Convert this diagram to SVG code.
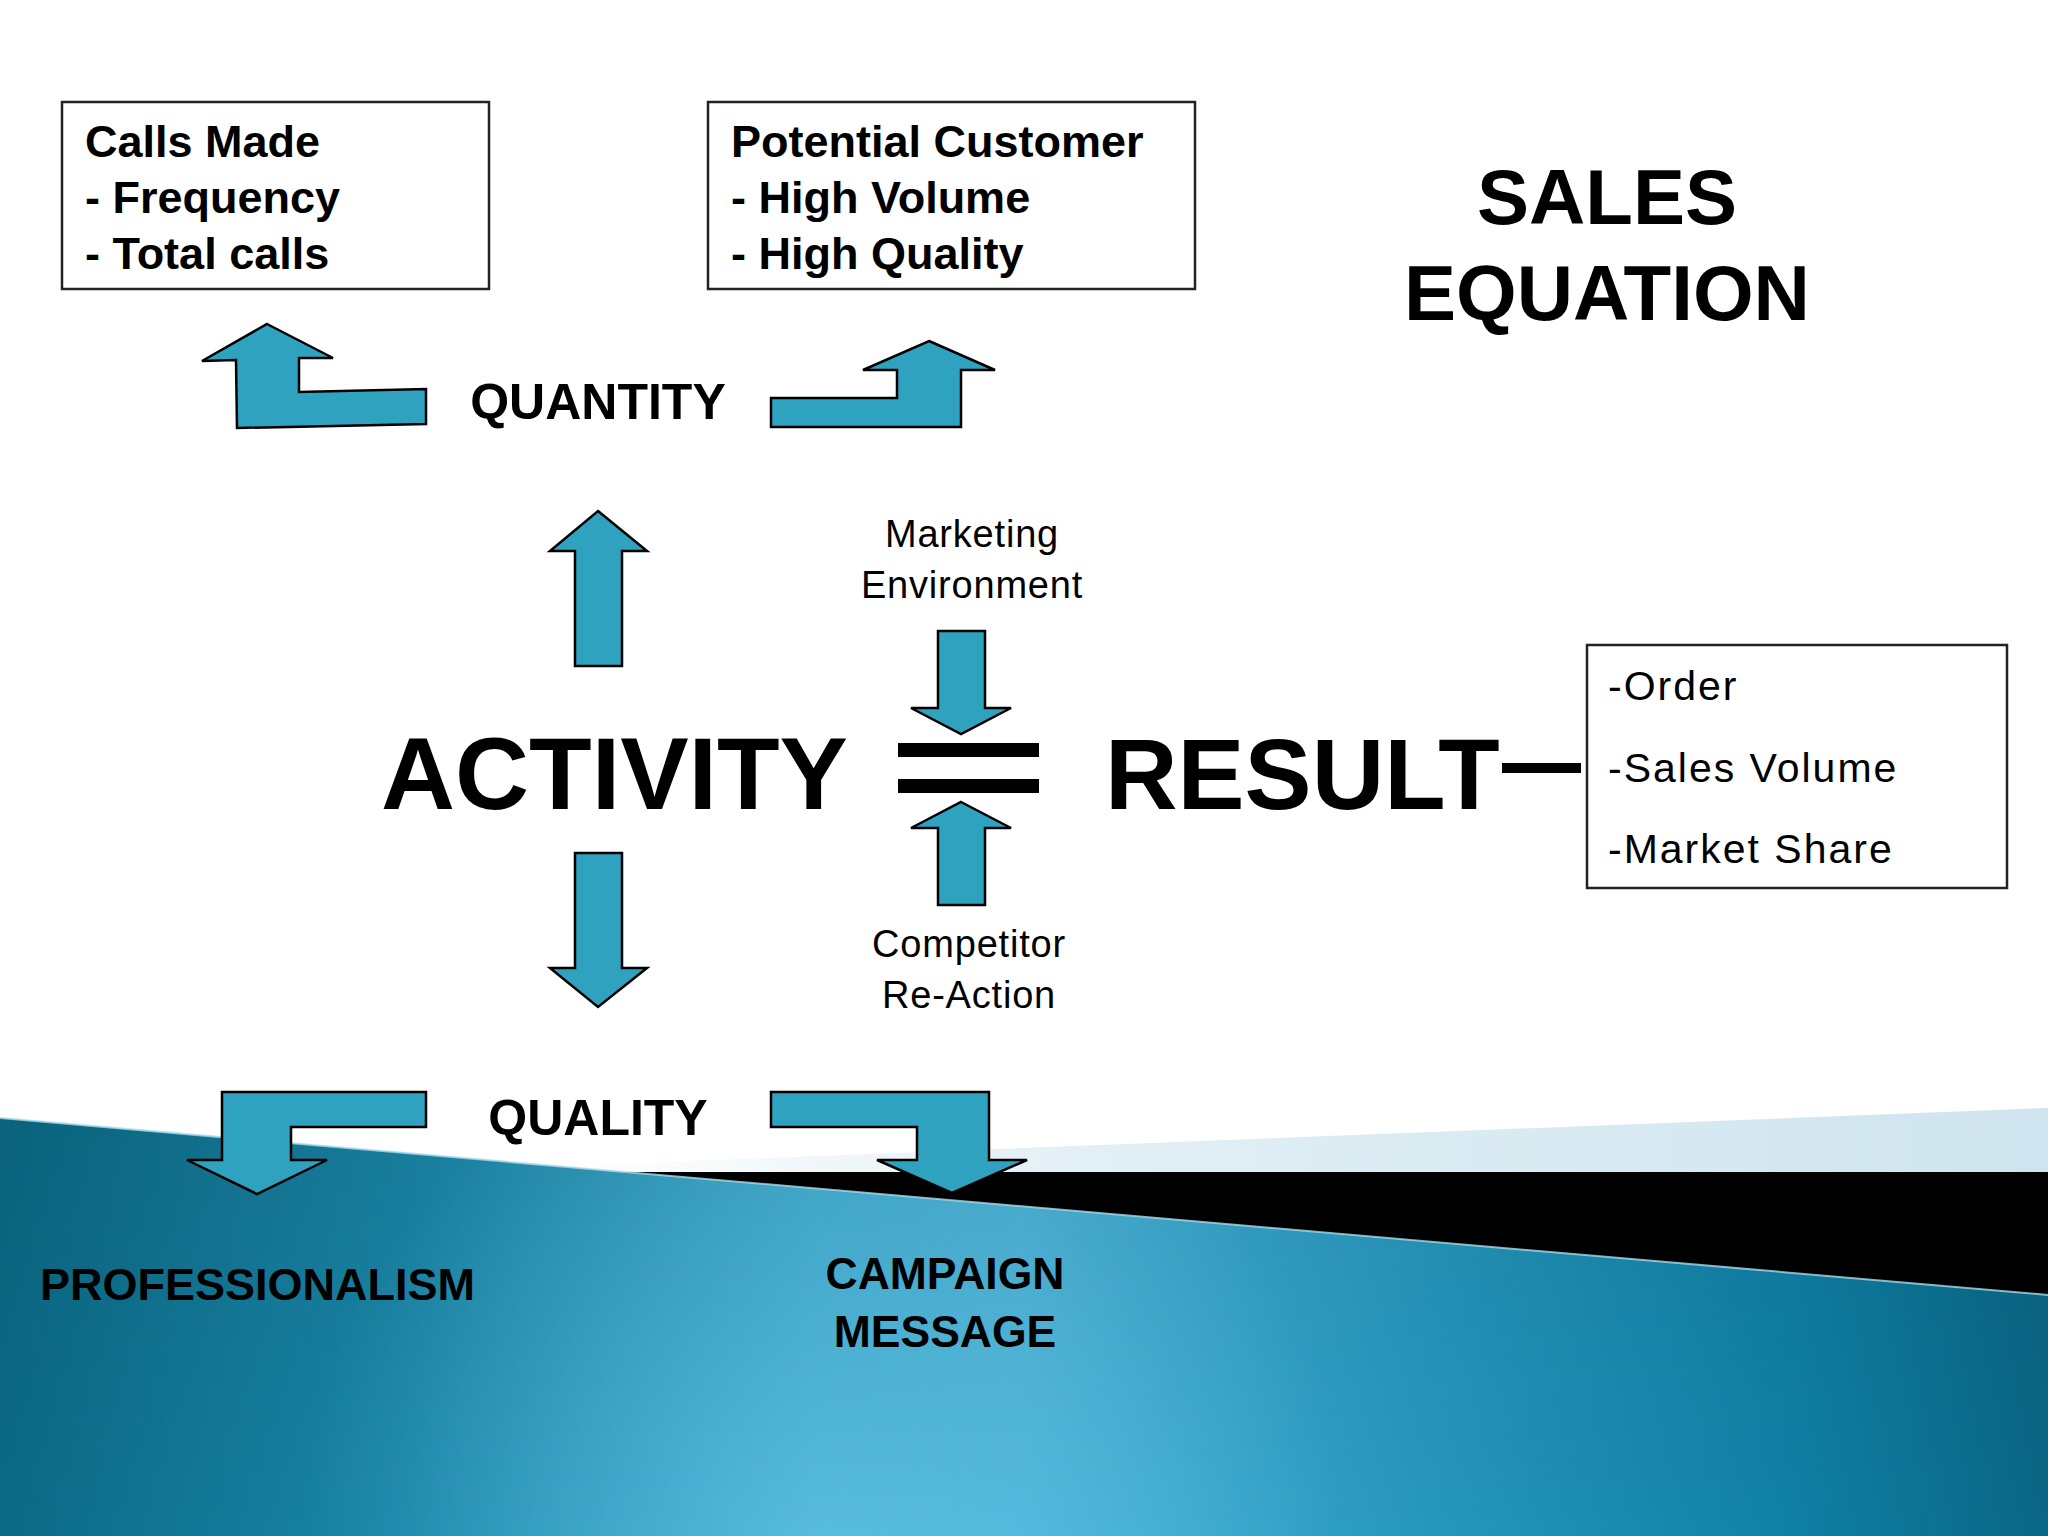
<svg xmlns="http://www.w3.org/2000/svg" width="2048" height="1536" viewBox="0 0 2048 1536">
<defs>
<linearGradient id="paleBand" x1="560" y1="0" x2="2048" y2="0" gradientUnits="userSpaceOnUse">
<stop offset="0" stop-color="#ffffff"/>
<stop offset="0.35" stop-color="#e2eff5"/>
<stop offset="1" stop-color="#cfe4ee"/>
</linearGradient>
<linearGradient id="teal" x1="0" y1="0" x2="2048" y2="0" gradientUnits="userSpaceOnUse">
<stop offset="0" stop-color="#0b6a86"/>
<stop offset="0.2" stop-color="#1a86a8"/>
<stop offset="0.4" stop-color="#3eaed3"/>
<stop offset="0.5" stop-color="#48b3d8"/>
<stop offset="0.7" stop-color="#2696bd"/>
<stop offset="0.88" stop-color="#0f7fa4"/>
<stop offset="1" stop-color="#0a6685"/>
</linearGradient>
<radialGradient id="tealGlow" cx="820" cy="1536" r="520" gradientUnits="userSpaceOnUse">
<stop offset="0" stop-color="#6cc6e6" stop-opacity="0.55"/>
<stop offset="1" stop-color="#6cc6e6" stop-opacity="0"/>
</radialGradient>
<linearGradient id="tealShade" x1="0" y1="1118" x2="0" y2="1536" gradientUnits="userSpaceOnUse">
<stop offset="0" stop-color="#000000" stop-opacity="0.08"/>
<stop offset="1" stop-color="#000000" stop-opacity="0"/>
</linearGradient>
</defs>
<style>
.arrow{fill:#2fa2c0;stroke:#000;stroke-width:2.5;stroke-linejoin:miter}
.box{fill:#fff;stroke:#222;stroke-width:2.5}
.bt{font-family:"Liberation Sans",Arial,sans-serif;font-weight:bold;fill:#000}
.rt{font-family:"Liberation Sans",Arial,sans-serif;fill:#000}
</style>

<!-- background -->
<rect x="0" y="0" width="2048" height="1536" fill="#ffffff"/>
<polygon points="560,1166 2048,1108 2048,1180 560,1180" fill="url(#paleBand)"/>
<rect x="600" y="1172" width="1448" height="140" fill="#000"/>
<path d="M0,1118 L2048,1295 L2048,1536 L0,1536 Z" fill="url(#teal)"/>
<path d="M0,1118 L2048,1295 L2048,1536 L0,1536 Z" fill="url(#tealGlow)"/>
<path d="M0,1118 L2048,1295 L2048,1536 L0,1536 Z" fill="url(#tealShade)"/>
<path d="M0,1118 L2048,1295" fill="none" stroke="#a9d9e8" stroke-width="2" opacity="0.8"/>

<!-- title -->
<g id="title">
<text class="bt" x="1607" y="224" font-size="78" text-anchor="middle">SALES</text>
<text class="bt" x="1607" y="320" font-size="78" text-anchor="middle">EQUATION</text>
</g>

<g id="calls-made">
<rect class="box" x="62" y="102" width="427" height="187"/>
<text class="bt" x="85" y="157" font-size="45">Calls Made</text>
<text class="bt" x="85" y="213" font-size="45">- Frequency</text>
<text class="bt" x="85" y="269" font-size="45">- Total calls</text>
</g>

<g id="potential-customer">
<rect class="box" x="708" y="102" width="487" height="187"/>
<text class="bt" x="731" y="157" font-size="45">Potential Customer</text>
<text class="bt" x="731" y="213" font-size="45">- High Volume</text>
<text class="bt" x="731" y="269" font-size="45">- High Quality</text>
</g>

<g id="quantity">
<text class="bt" x="598" y="419" font-size="50" text-anchor="middle">QUANTITY</text>
</g>

<g id="activity">
<text class="bt" x="381" y="809" font-size="102.5">ACTIVITY</text>
</g>

<g id="equals">
<rect x="898" y="743" width="141" height="14" fill="#000"/>
<rect x="898" y="779" width="141" height="14" fill="#000"/>
</g>

<g id="result">
<text class="bt" x="1105" y="809" font-size="100.5">RESULT</text>
</g>

<g id="marketing-environment">
<text class="rt" x="972" y="547" font-size="38" letter-spacing="0.8" text-anchor="middle">Marketing</text>
<text class="rt" x="972" y="598" font-size="38" letter-spacing="0.8" text-anchor="middle">Environment</text>
</g>

<g id="competitor-reaction">
<text class="rt" x="969" y="957" font-size="38" letter-spacing="0.8" text-anchor="middle">Competitor</text>
<text class="rt" x="969" y="1008" font-size="38" letter-spacing="0.8" text-anchor="middle">Re-Action</text>
</g>

<g id="result-box">
<rect class="box" x="1587" y="645" width="420" height="243"/>
<text class="rt" x="1608" y="700" font-size="41" letter-spacing="2">-Order</text>
<text class="rt" x="1608" y="782" font-size="41" letter-spacing="2">-Sales Volume</text>
<text class="rt" x="1608" y="863" font-size="41" letter-spacing="2">-Market Share</text>
</g>

<g id="quality">
<text class="bt" x="598" y="1135" font-size="50" text-anchor="middle">QUALITY</text>
</g>

<g id="professionalism">
<text class="bt" x="40" y="1300" font-size="45">PROFESSIONALISM</text>
</g>

<g id="campaign-message">
<text class="bt" x="945" y="1289" font-size="44.5" text-anchor="middle">CAMPAIGN</text>
<text class="bt" x="945" y="1347" font-size="44.5" text-anchor="middle">MESSAGE</text>
</g>

<g id="connectors">
<!-- quantity arrows -->
<polygon class="arrow" points="267,324 333,358 299,358 299,392 426,389 426,424 237,428 236,360 202,361"/>
<polygon class="arrow" points="929,341 995,370 961,370 961,427 771,427 771,398 897,398 897,370 863,370"/>
<!-- activity up / down -->
<polygon class="arrow" points="598,511 647,551 622,551 622,666 575,666 575,551 550,551"/>
<polygon class="arrow" points="575,853 622,853 622,968 647,968 598,1007 550,968 575,968"/>
<!-- marketing environment down -->
<polygon class="arrow" points="938,631 985,631 985,708 1011,708 961,734 911,708 938,708"/>
<!-- competitor up -->
<polygon class="arrow" points="961,802 1011,828 985,828 985,905 938,905 938,828 911,828"/>
<!-- result line -->
<rect x="1502" y="763" width="79" height="10" fill="#000"/>
<!-- quality arrows -->
<polygon class="arrow" points="222,1092 426,1092 426,1127 291,1127 291,1160 327,1160 257,1194 187,1160 222,1160"/>
<polygon class="arrow" points="771,1092 989,1092 989,1160 1027,1160 952,1193 877,1160 917,1160 917,1127 771,1127"/>
</g>
</svg>
